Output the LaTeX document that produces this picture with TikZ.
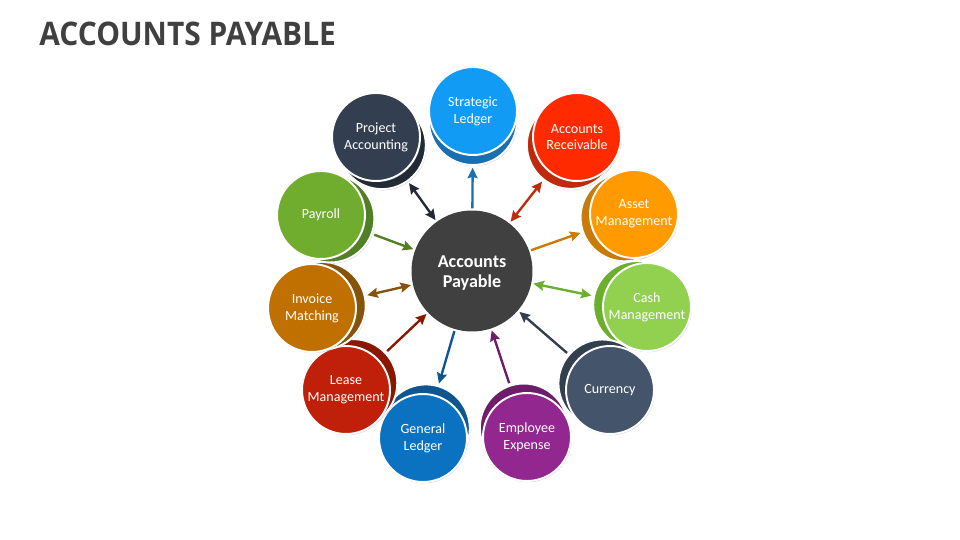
\documentclass[tikz,border=0pt]{standalone}
\usepackage{fontspec}
\setmainfont{Carlito}
\newfontfamily\headfont[FakeStretch=0.92]{Open Sans}
\usetikzlibrary{calc,arrows.meta,shadows}

\definecolor{apgrey}{HTML}{404040}
\definecolor{slfront}{HTML}{119BF5}\definecolor{slback}{HTML}{1A6FB0}
\definecolor{arfront}{HTML}{FF2A00}\definecolor{arback}{HTML}{C02A0C}
\definecolor{amfront}{HTML}{FF9A00}\definecolor{amback}{HTML}{C97A08}
\definecolor{cmfront}{HTML}{92D050}\definecolor{cmback}{HTML}{6BAF2D}
\definecolor{cufront}{HTML}{44546A}\definecolor{cuback}{HTML}{323F4F}
\definecolor{eefront}{HTML}{92278F}\definecolor{eeback}{HTML}{6E1D6B}
\definecolor{glfront}{HTML}{0A72C0}\definecolor{glback}{HTML}{0F5690}
\definecolor{lmfront}{HTML}{C0200A}\definecolor{lmback}{HTML}{8A1800}
\definecolor{imfront}{HTML}{C07000}\definecolor{imback}{HTML}{85530A}
\definecolor{pyfront}{HTML}{70AD2F}\definecolor{pyback}{HTML}{527F25}
\definecolor{pafront}{HTML}{333F50}\definecolor{paback}{HTML}{222A35}

\tikzset{
  disc/.style={circle, minimum size=1.76cm, inner sep=0pt, draw=white, line width=1.1pt,
    drop shadow={shadow xshift=0.5pt, shadow yshift=-0.7pt, opacity=0.35}},
  frontdisc/.style={disc, text=white, align=center, font=\fontsize{8}{9.6}\selectfont},
  hub/.style={circle, minimum size=2.42cm, inner sep=0pt, fill=apgrey, text=white,
    align=center, font=\bfseries\fontsize{10.3}{11.6}\selectfont},
  link/.style={line width=1.35pt, shorten >=1pt, shorten <=1pt},
  >={Stealth[length=6pt, width=5.6pt, inset=0.8pt]}
}

% name, x, y, front, back, label
\def\apitem#1#2#3#4#5#6{%
  \coordinate (#1-c) at (#2,#3);
  \node[disc, fill=#5] (#1-b) at ($(#1-c)!0.2cm!(ap)$) {};
  \node[frontdisc, fill=#4] (#1) at (#1-c) {#6};
}

\begin{document}
\begin{tikzpicture}[x=0.02cm, y=-0.02cm]
    \useasboundingbox (0,0) rectangle (960,540);

    \node[anchor=base west, inner sep=0pt, text=apgrey,
      font=\headfont\bfseries\fontsize{18.5}{22}\selectfont] (title) at (39,46) {ACCOUNTS PAYABLE};

    %%%%% hub %%%%%
    \node[hub] (ap) at (472,271) {};
    \node[text=white, align=center, font=\bfseries\fontsize{10.3}{11.6}\selectfont] (aptext) at (472,273) {Accounts\\Payable};

    %%%%% items %%%%%
    \apitem{sl}{473}{111}{slfront}{slback}{Strategic\\Ledger}
    \apitem{ar}{577}{137}{arfront}{arback}{Accounts\\Receivable}
    \apitem{am}{634}{214}{amfront}{amback}{Asset\\Management}
    \apitem{cm}{647}{307}{cmfront}{cmback}{Cash\\Management}
    \apitem{cu}{610}{390}{cufront}{cuback}{Currency}
    \apitem{ee}{527}{437}{eefront}{eeback}{Employee\\Expense}
    \apitem{gl}{423}{438}{glfront}{glback}{General\\Ledger}
    \apitem{lm}{346}{390}{lmfront}{lmback}{Lease\\Management}
    \apitem{im}{312}{308}{imfront}{imback}{Invoice\\Matching}
    \apitem{py}{321}{215}{pyfront}{pyback}{Payroll}
    \apitem{pa}{376}{137}{pafront}{paback}{Project\\Accounting}

    %%%%% links %%%%%
    \draw[link, ->, slback] (ap) -- (sl-b);
    \draw[link, <->, arback] (ap) -- (ar-b);
    \draw[link, ->, amback] (ap) -- (am-b);
    \draw[link, <->, cmback] (ap) -- (cm-b);
    \draw[link, <-, cuback] (ap) -- (cu-b);
    \draw[link, <-, eeback] (ap) -- (ee-b);
    \draw[link, ->, glback] (ap) -- (gl-b);
    \draw[link, <-, lmback] (ap) -- (lm-b);
    \draw[link, <->, imback] (ap) -- (im-b);
    \draw[link, <-, pyback] (ap) -- (py-b);
    \draw[link, <->, paback] (ap) -- (pa-b);
\end{tikzpicture}
\end{document}
